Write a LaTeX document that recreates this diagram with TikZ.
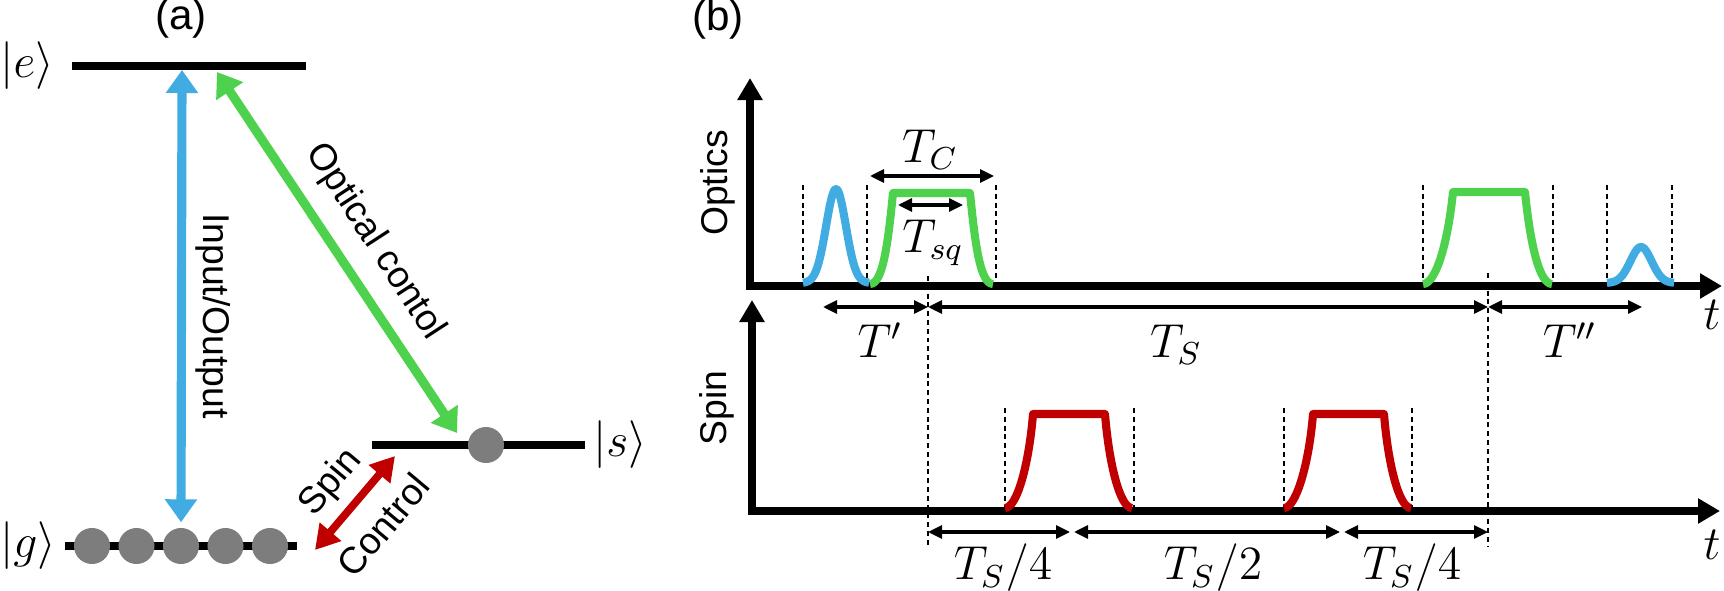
\documentclass[tikz,border=0pt]{standalone}
\usepackage{fontspec}
\setmainfont{Liberation Sans}
\usetikzlibrary{arrows.meta}
\definecolor{ioblue}{RGB}{65,172,226}
\definecolor{optgreen}{RGB}{78,210,78}
\definecolor{spinred}{RGB}{192,0,0}
\definecolor{atomgray}{RGB}{125,125,125}
\begin{document}
\begin{tikzpicture}[x=0.01cm,y=-0.01cm,
  level/.style={line width=2pt,black},
  atom/.style={circle,fill=atomgray,minimum size=0.36cm,inner sep=0pt},
  bigarrow/.style={line width=2.6pt,{Triangle[length=0.23cm,width=0.31cm]}-{Triangle[length=0.23cm,width=0.31cm]}},
  midarrow/.style={line width=2.2pt,{Triangle[length=0.24cm,width=0.27cm]}-{Triangle[length=0.24cm,width=0.27cm]}},
  axes/.style={line width=2pt,line join=miter,{Triangle[length=0.22cm,width=0.24cm]}-{Triangle[length=0.22cm,width=0.24cm]}},
  span/.style={line width=0.9pt,{Triangle[length=0.14cm,width=0.13cm]}-{Triangle[length=0.14cm,width=0.13cm]}},
  pulse/.style={line width=2.3pt,line join=round},
  guide/.style={line width=0.6pt,dash pattern=on 1.4pt off 1.1pt},
  lab/.style={font=\fontsize{10.6}{13}\selectfont,inner sep=0pt},
  panel/.style={font=\fontsize{12}{14}\selectfont,inner sep=0pt},
  ket/.style={font=\fontsize{12}{14}\selectfont,scale=1.13,inner sep=0pt}]
  \useasboundingbox (0,0) rectangle (1724,591);

  % (a) three-level scheme
  \node[panel] (pa) at (181,19) {(a)};
  \coordinate (e-l) at (72,66);  \coordinate (e-r) at (306,66);
  \coordinate (s-l) at (372,445); \coordinate (s-r) at (585,445);
  \coordinate (g-l) at (65,546); \coordinate (g-r) at (297,546);
  \draw[level] (e-l) -- (e-r);
  \draw[level] (s-l) -- (s-r);
  \draw[level] (g-l) -- (g-r);
  \node[ket] (ke) at (27,66) {$|e\rangle$};
  \node[ket] (kg) at (28,546) {$|g\rangle$};
  \node[ket] (ks) at (620,445) {$|s\rangle$};
  \foreach \i in {0,...,4} \node[atom] (g\i) at (92+44.5*\i,546) {};
  \node[atom] (s0) at (486,445) {};

  \coordinate (e-io) at (182,70);
  \coordinate (e-oc) at (217,72);  \coordinate (s-oc) at (457,433);
  \coordinate (s-sc) at (395,456); \coordinate (g-sc) at (315,550);
  \draw[bigarrow,ioblue,shorten >=0.05cm] (e-io) -- (g2.north);
  \draw[bigarrow,optgreen] (e-oc) -- (s-oc);
  \draw[midarrow,spinred] (s-sc) -- (g-sc);
  \node[lab,rotate=-90] (l-io) at (213,316) {Input/Output};
  \node[lab,rotate=-57] (l-oc) at (375,242) {Optical contol};
  \node[lab,rotate=50] (l-sp) at (331,483) {Spin};
  \node[lab,rotate=50] (l-ct) at (383,525) {Control};

  % (b) pulse sequence
  \node[panel] (pb) at (718,20) {(b)};
  \coordinate (opt-top) at (750,78);  \coordinate (opt-end) at (1722,286);
  \coordinate (spin-top) at (752,300); \coordinate (spin-end) at (1720,511);
  \draw[axes] (opt-top) |- (opt-end);
  \draw[axes] (spin-top) |- (spin-end);
  \node[lab,rotate=90] (l-opt) at (718,183) {Optics};
  \node[lab,rotate=90] (l-spin) at (717,408) {Spin};
  \node[ket] (t1) at (1712,315) {$t$};
  \node[ket] (t2) at (1712,545) {$t$};

  \foreach \x in {803,867,996,1423,1553,1607,1672} \draw[guide] (\x,185) -- (\x,286);
  \foreach \x in {1005,1134,1284,1412} \draw[guide] (\x,408) -- (\x,511);
  \draw[guide] (928,276) -- (928,547);
  \draw[guide] (1488,273) -- (1488,547);

  \draw[pulse,ioblue] plot[domain=803:869,samples=60] (\x,{283-94*exp(-pow((\x-836)/14,2))});
  \draw[pulse,ioblue] plot[domain=1607:1674,samples=60] (\x,{283-36*exp(-pow((\x-1641)/15,2))});
  \draw[pulse,optgreen] (870,284) .. controls +(13,0) and +(-5,50) .. (893,193) -- (970,193) .. controls +(5,50) and +(-13,0) .. (993,284);
  \draw[pulse,optgreen] (1423,284) .. controls +(13,0) and +(-5,50) .. (1453,192) -- (1525,192) .. controls +(5,50) and +(-13,0) .. (1552,284);
  \draw[pulse,spinred] (1005,508) .. controls +(12,0) and +(-4,50) .. (1033,414) -- (1105,414) .. controls +(4,50) and +(-12,0) .. (1132,508);
  \draw[pulse,spinred] (1284,508) .. controls +(12,0) and +(-4,50) .. (1313,414) -- (1384,414) .. controls +(4,50) and +(-12,0) .. (1411,508);

  % time intervals
  \coordinate (tc-l) at (870,176);  \coordinate (tc-r) at (994,176);
  \coordinate (sq-l) at (898,205);  \coordinate (sq-r) at (963,205);
  \coordinate (p-a) at (823,307);   \coordinate (p-b) at (928,307);
  \coordinate (p-c) at (1488,307);  \coordinate (p-d) at (1642,307);
  \coordinate (q-a) at (928,532);   \coordinate (q-b) at (1070,532);
  \coordinate (q-c) at (1340,532);  \coordinate (q-d) at (1488,532);
  \draw[span] (tc-l) -- (tc-r);
  \draw[span] (sq-l) -- (sq-r);
  \draw[span] (p-a) -- (p-b);
  \draw[span] (p-b) -- (p-c);
  \draw[span] (p-c) -- (p-d);
  \draw[span] (q-a) -- (q-b);
  \draw[span] ([xshift=0.04cm]q-b) -- (q-c);
  \draw[span] ([xshift=0.04cm]q-c) -- (q-d);
  \node[ket] (l-tc) at (930,150) {$T_C$};
  \node[ket] (l-sq) at (933,243) {$T_{sq}$};
  \node[ket] (l-t1) at (880,340) {$T'$};
  \node[ket] (l-ts) at (1176,345) {$T_S$};
  \node[ket] (l-t2) at (1570,340) {$T''$};
  \node[ket] (l-q1) at (1003,568) {$T_S/4$};
  \node[ket] (l-q2) at (1213,568) {$T_S/2$};
  \node[ket] (l-q3) at (1412,568) {$T_S/4$};
\end{tikzpicture}
\end{document}
